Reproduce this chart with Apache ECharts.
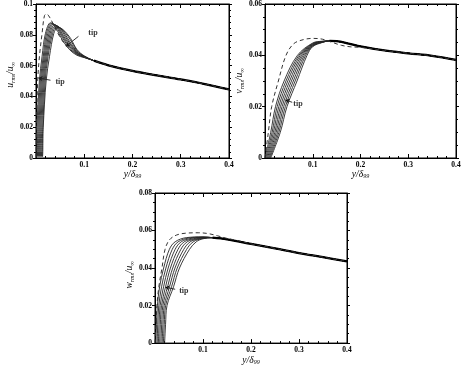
<!DOCTYPE html>
<html><head><meta charset="utf-8">
<script src="https://cdn.jsdelivr.net/npm/echarts@6/dist/echarts.min.js"></script>
<style>html,body{margin:0;padding:0;background:#fff}#c{width:474px;height:366px}#err{position:absolute;left:240px;top:200px;width:230px;font:9px monospace;color:red}</style>
</head><body><div id="c"></div><div id="err"></div>
<script>
window.onerror = function (m, s, l, c, e) { document.getElementById('err').textContent += ' | ' + m + ' ' + (e && e.stack ? e.stack.slice(0, 300) : ''); };
// ---------- axis ranges / tick steps ----------
const xRange = [0, 0.4];
const xStep = 0.1;
const uRange = [0, 0.1];
const vRange = [0, 0.06];
const wRange = [0, 0.08];
const yStep = 0.02;

// ---------- u_rms / u_inf (top left) ----------
const u0 = [[0.0,0.004],[0.001,0.001],[0.002,0.02],[0.007,0.05],[0.0126,0.066],[0.0197,0.081],[0.030,0.0878],[0.040,0.0850],[0.055,0.0765],[0.07,0.0702],[0.085,0.0667],[0.1,0.0652]];
const u1 = [[0.001,0.004],[0.002,0.001],[0.004,0.02],[0.009,0.05],[0.015,0.066],[0.022,0.081],[0.032,0.0875],[0.042,0.0852],[0.055,0.0780],[0.07,0.0712],[0.085,0.0672],[0.1,0.0654]];
const u2 = [[0.002,0.004],[0.004,0.001],[0.006,0.02],[0.011,0.05],[0.017,0.066],[0.0245,0.081],[0.034,0.0872],[0.044,0.0853],[0.055,0.0792],[0.07,0.0722],[0.085,0.0677],[0.1,0.0655]];
const u3 = [[0.004,0.004],[0.006,0.001],[0.008,0.02],[0.013,0.05],[0.019,0.066],[0.027,0.081],[0.036,0.0868],[0.046,0.0852],[0.056,0.0798],[0.07,0.0733],[0.085,0.0682],[0.1,0.0657]];
const u4 = [[0.006,0.004],[0.008,0.001],[0.010,0.02],[0.015,0.05],[0.021,0.066],[0.0295,0.081],[0.038,0.0863],[0.048,0.0850],[0.058,0.0802],[0.07,0.0744],[0.085,0.0687],[0.1,0.0658]];
const u5 = [[0.008,0.004],[0.010,0.001],[0.012,0.02],[0.017,0.05],[0.023,0.066],[0.032,0.081],[0.040,0.0858],[0.050,0.0845],[0.060,0.0805],[0.07,0.0755],[0.085,0.0692],[0.1,0.0660]];
const u6 = [[0.010,0.004],[0.012,0.001],[0.014,0.02],[0.019,0.05],[0.025,0.066],[0.0345,0.081],[0.042,0.0852],[0.052,0.0842],[0.062,0.0808],[0.071,0.0768],[0.085,0.0698],[0.1,0.0661]];
const u7 = [[0.012,0.004],[0.0135,0.001],[0.015,0.02],[0.021,0.05],[0.028,0.066],[0.037,0.081],[0.045,0.0848],[0.055,0.0836],[0.064,0.0808],[0.072,0.0775],[0.085,0.0704],[0.1,0.0663]];
const uCurves = [u0,u1,u2,u3,u4,u5,u6,u7];
const uTail = [[0.12,0.0632],[0.15,0.0602],[0.2,0.0565],[0.25,0.0537],[0.3,0.051],[0.35,0.048],[0.4,0.0445]];
const uDashed = [[0.0,0.0],[0.001,0.02],[0.0036,0.0506],[0.0071,0.0658],[0.0126,0.081],[0.0176,0.0925],[0.022,0.0935],[0.028,0.0915],[0.036,0.0868],[0.048,0.0795],[0.06,0.0738],[0.075,0.0695],[0.09,0.0668],[0.1,0.0655]];
const uArrows = [[[0.088,0.079],[0.062,0.0725]], [[0.030,0.0505],[0.005,0.052]]];
const uTips = [[0.118,0.081],[0.050,0.0495]];

// ---------- v_rms / u_inf (top right) ----------
const v0 = [[0.0,0.0],[0.012,0.01],[0.022,0.02],[0.040,0.03],[0.068,0.04],[0.1,0.0448],[0.12,0.0455]];
const v1 = [[0.0017,0.0],[0.0149,0.01],[0.0254,0.02],[0.0439,0.03],[0.0709,0.04],[0.1,0.0446],[0.12,0.0454]];
const v2 = [[0.0034,0.0],[0.0177,0.01],[0.0289,0.02],[0.0477,0.03],[0.0737,0.04],[0.1,0.0444],[0.12,0.0454]];
const v3 = [[0.0051,0.0],[0.0206,0.01],[0.0323,0.02],[0.0516,0.03],[0.0766,0.04],[0.1,0.0442],[0.12,0.0453]];
const v4 = [[0.0069,0.0],[0.0234,0.01],[0.0357,0.02],[0.0554,0.03],[0.0794,0.04],[0.1,0.0440],[0.12,0.0452]];
const v5 = [[0.0086,0.0],[0.0263,0.01],[0.0391,0.02],[0.0593,0.03],[0.0823,0.04],[0.1,0.0438],[0.12,0.0451]];
const v6 = [[0.0103,0.0],[0.0291,0.01],[0.0426,0.02],[0.0631,0.03],[0.0851,0.04],[0.1,0.0436],[0.12,0.0451]];
const v7 = [[0.012,0.0],[0.032,0.01],[0.046,0.02],[0.067,0.03],[0.088,0.04],[0.1,0.0434],[0.12,0.0450]];
const vCurves = [v0,v1,v2,v3,v4,v5,v6,v7];
const vTail = [[0.135,0.0456],[0.15,0.0455],[0.175,0.0446],[0.2,0.0435],[0.25,0.0419],[0.3,0.0408],[0.35,0.0398],[0.4,0.0382]];
const vDashed = [[0.0,0.0],[0.007,0.01],[0.014,0.02],[0.028,0.03],[0.044,0.04],[0.06,0.0445],[0.08,0.0461],[0.1,0.0466],[0.12,0.0463],[0.14,0.0451],[0.16,0.0439],[0.18,0.0433],[0.2,0.0431]];
const vArrows = [[[0.057,0.0217],[0.043,0.0226]]];
const vTips = [[0.069,0.0212]];

// ---------- w_rms / u_inf (bottom) ----------
const w0 = [[0.002,0.0],[0.003,0.01],[0.005,0.02],[0.0096,0.03],[0.018,0.04],[0.030,0.05],[0.042,0.054],[0.065,0.0562],[0.1,0.0566]];
const w1 = [[0.0046,0.0],[0.0057,0.01],[0.0079,0.02],[0.0137,0.03],[0.0227,0.04],[0.036,0.05],[0.0483,0.054],[0.07,0.056],[0.1,0.0565]];
const w2 = [[0.0071,0.0],[0.0084,0.01],[0.0107,0.02],[0.0179,0.03],[0.0274,0.04],[0.042,0.05],[0.0546,0.054],[0.075,0.0558],[0.1,0.0564]];
const w3 = [[0.0097,0.0],[0.0111,0.01],[0.0136,0.02],[0.022,0.03],[0.0321,0.04],[0.048,0.05],[0.0609,0.054],[0.08,0.0556],[0.1,0.0563]];
const w4 = [[0.0123,0.0],[0.0139,0.01],[0.0164,0.02],[0.0262,0.03],[0.0369,0.04],[0.054,0.05],[0.0671,0.054],[0.085,0.0555],[0.1,0.0561]];
const w5 = [[0.0149,0.0],[0.0166,0.01],[0.0193,0.02],[0.0303,0.03],[0.0416,0.04],[0.060,0.05],[0.0734,0.054],[0.09,0.0555],[0.1,0.0560]];
const w6 = [[0.0174,0.0],[0.0193,0.01],[0.0221,0.02],[0.0345,0.03],[0.0463,0.04],[0.066,0.05],[0.0797,0.054],[0.1,0.0558]];
const w7 = [[0.020,0.0],[0.022,0.01],[0.025,0.02],[0.0386,0.03],[0.051,0.04],[0.072,0.05],[0.086,0.054],[0.1,0.0556]];
const wCurves = [w0,w1,w2,w3,w4,w5,w6,w7];
const wTail = [[0.12,0.0562],[0.15,0.0553],[0.2,0.0529],[0.25,0.0505],[0.3,0.048],[0.35,0.0458],[0.4,0.0435]];
const wDashed = [[0.0,0.0],[0.002,0.01],[0.004,0.02],[0.008,0.03],[0.0145,0.04],[0.021,0.05],[0.03,0.055],[0.045,0.0576],[0.065,0.0586],[0.09,0.0588],[0.11,0.0584],[0.13,0.0572],[0.15,0.0558],[0.17,0.0548]];
const wArrows = [[[0.042,0.0287],[0.0215,0.0298]]];
const wTips = [[0.060,0.0277]];

// ---------- layout / styling ----------
const SERIF = 'Liberation Serif, DejaVu Serif, serif';
function rich() {
  return {
    i: {fontFamily: SERIF, fontStyle: 'italic', fontSize: 9.5, color: '#000'},
    s: {fontFamily: SERIF, fontStyle: 'italic', fontSize: 6, color: '#000', padding: [4, 0, 0, 0]}
  };
}
const panels = [
  {grid: {left: 36, top: 4, width: 193, height: 154}, yRange: uRange, yMinorSplit: 5,
   yName: '{i|u}{s|rms}{i|/u}{s|∞}', curves: uCurves, tail: uTail, dashed: uDashed, dashedTail: uTail, arrows: uArrows, tips: uTips, yGap: 20, xGap: 9, yPad: [0, 0, 0, 12]},
  {grid: {left: 265, top: 4, width: 191, height: 154}, yRange: vRange, yMinorSplit: 4,
   yName: '{i|v}{s|rms}{i|/u}{s|∞}', curves: vCurves, tail: vTail, dashed: vDashed, dashedTail: vTail.filter(p => p[0] > 0.2), arrows: vArrows, tips: vTips, yGap: 20, xGap: 9, yPad: [0, 0, 0, 0]},
  {grid: {left: 155, top: 193, width: 192, height: 153}, yRange: wRange, yMinorSplit: 4,
   yName: '{i|w}{s|rms}{i|/u}{s|∞}', curves: wCurves, tail: wTail, dashed: wDashed, dashedTail: wTail.filter(p => p[0] > 0.17), arrows: wArrows, tips: wTips, yGap: 20, xGap: 7, yPad: [0, 14, 0, 0]}
];
const fmt = v => String(+(+v).toFixed(3));
const fmtX = v => (Math.abs(v) < 1e-9 ? '' : fmt(v));
function lab(extra) { return Object.assign({fontFamily: SERIF, fontSize: 7.5, fontWeight: 'bold', color: '#000', margin: 3}, extra); }
const ls = () => ({color: '#000', width: 1});

const grids = [], xAxis = [], yAxis = [], series = [];
panels.forEach((p, gi) => {
  grids.push(Object.assign({show: true, borderColor: '#000', borderWidth: 1, backgroundColor: 'rgba(0,0,0,0)'}, p.grid));
  const xb = () => ({gridIndex: gi, type: 'value', min: xRange[0], max: xRange[1], interval: xStep, splitLine: {show: false},
    axisLine: {show: true, onZero: false, lineStyle: ls()},
    axisTick: {show: true, inside: true, length: 4},
    minorTick: {show: true, splitNumber: 5, length: 2}});
  const xi = xAxis.length;
  xAxis.push(
    Object.assign(xb(), {axisLabel: lab({formatter: fmtX}),
      name: '{i|y}{i|/δ}{s|99}', nameLocation: 'middle', nameGap: p.xGap, nameTextStyle: {rich: rich()}}),
    Object.assign(xb(), {position: 'top', axisLabel: {show: false}})
  );
  const yb = () => ({gridIndex: gi, type: 'value', min: p.yRange[0], max: p.yRange[1], interval: yStep, splitLine: {show: false},
    axisLine: {show: true, onZero: false, lineStyle: ls()},
    axisTick: {show: true, inside: false, length: 3},
    minorTick: {show: true, splitNumber: p.yMinorSplit, length: 2}});
  const yi = yAxis.length;
  yAxis.push(
    Object.assign(yb(), {axisLabel: lab({formatter: fmt}),
      name: p.yName, nameLocation: 'middle', nameGap: p.yGap, nameTextStyle: {rich: rich(), padding: p.yPad}}),
    Object.assign(yb(), {position: 'right', axisLabel: {show: false}})
  );
  p.curves.forEach(c => {
    series.push({type: 'line', xAxisIndex: xi, yAxisIndex: yi, data: c.concat(p.tail), symbol: 'none',
      smooth: 0.35, lineStyle: {color: '#262626', width: 0.9}});
  });
  series.push({type: 'line', xAxisIndex: xi, yAxisIndex: yi, data: p.tail, symbol: 'none',
    smooth: 0.35, lineStyle: {color: '#000', width: 2.3}});
  series.push({type: 'line', xAxisIndex: xi, yAxisIndex: yi, data: p.dashed.concat(p.dashedTail), symbol: 'none',
    smooth: 0.35, lineStyle: {color: '#333', width: 1, type: [4, 3]}});
  series.push({type: 'lines', coordinateSystem: 'cartesian2d', xAxisIndex: xi, yAxisIndex: yi,
    symbol: ['none', 'arrow'], symbolSize: 4, lineStyle: {color: '#000', width: 0.8, opacity: 1},
    data: p.arrows.map(a => ({coords: a}))});
  series.push({type: 'scatter', xAxisIndex: xi, yAxisIndex: yi, data: p.tips, symbolSize: 0,
    label: {show: true, position: 'inside', formatter: 'tip', fontFamily: SERIF, fontSize: 8, fontWeight: 'bold', color: '#000'}});
});

echarts.init(document.getElementById('c')).setOption({animation: false, grid: grids, xAxis: xAxis, yAxis: yAxis, series: series});
</script></body></html>
